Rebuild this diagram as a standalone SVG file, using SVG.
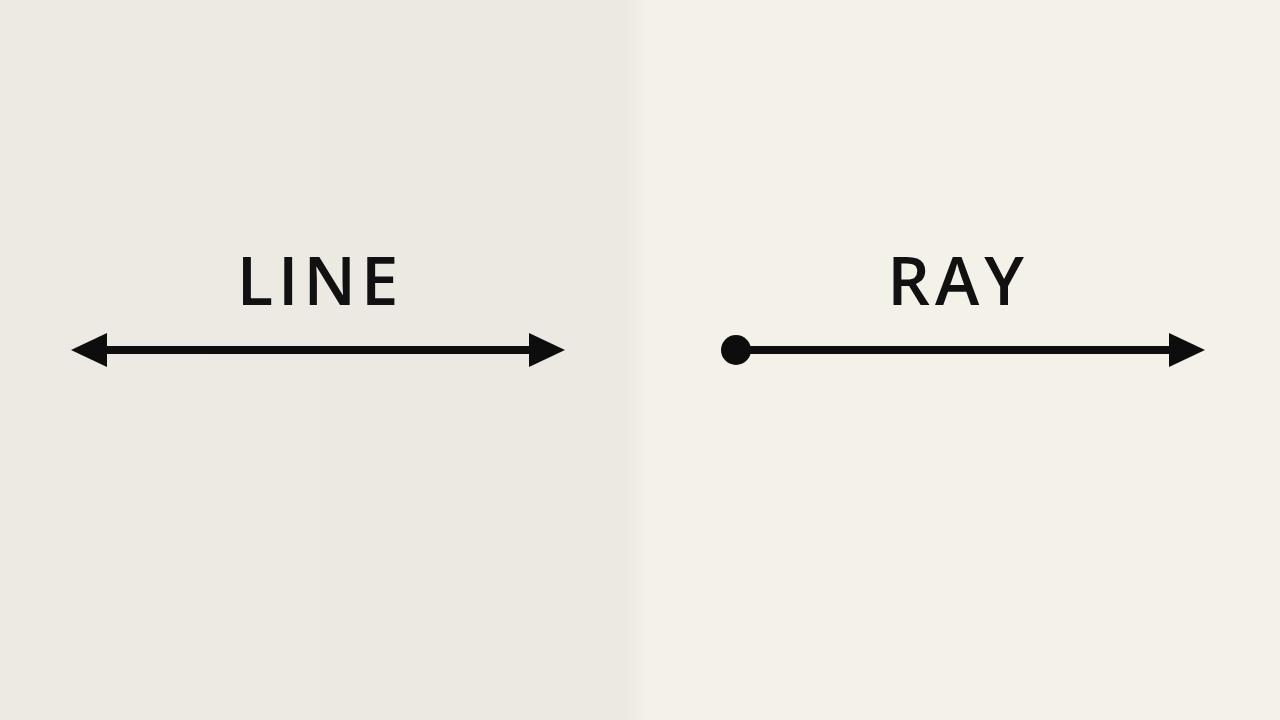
<svg xmlns="http://www.w3.org/2000/svg" width="1280" height="720" viewBox="0 0 1280 720">
  <defs>
    <linearGradient id="split" x1="0" y1="0" x2="1280" y2="0" gradientUnits="userSpaceOnUse">
      <stop offset="0" stop-color="#ECEAE3"/>
      <stop offset="0.49" stop-color="#EBE9E2"/>
      <stop offset="0.505" stop-color="#F4F1E8"/>
      <stop offset="1" stop-color="#F4F1E9"/>
    </linearGradient>
    <style>
      .label { font-family: "Open Sans", "Liberation Sans", Arial, sans-serif; font-weight: 600; font-size: 67px; fill: #111111; text-anchor: middle; letter-spacing: 5px; }
      .shaft { stroke: #0d0d0d; stroke-width: 8; fill: none; }
      .head { fill: #0d0d0d; }
    </style>
  </defs>
  <rect x="0" y="0" width="1280" height="720" fill="url(#split)"/>
  <g id="line-node">
    <text class="label" x="320" y="305">LINE</text>
  </g>
  <g id="ray-node">
    <text class="label" x="958" y="305">RAY</text>
    <circle cx="736" cy="350" r="15" fill="#0d0d0d"/>
  </g>
  <g id="connectors">
    <line class="shaft" x1="100" y1="350" x2="536" y2="350"/>
    <polygon class="head" points="71,350 107,333 107,367"/>
    <polygon class="head" points="565,350 529,333 529,367"/>
    <line class="shaft" x1="736" y1="350" x2="1172" y2="350"/>
    <polygon class="head" points="1205,350 1169,333 1169,367"/>
  </g>
</svg>
